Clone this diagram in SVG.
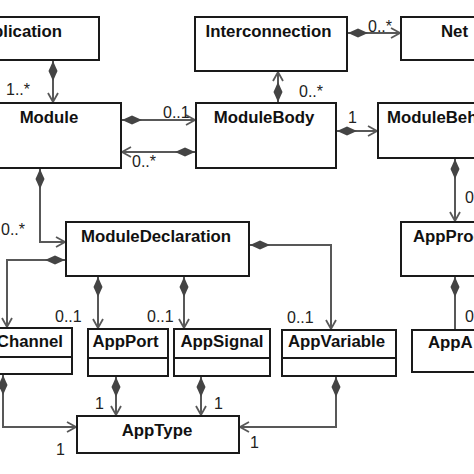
<svg xmlns="http://www.w3.org/2000/svg" width="474" height="474" viewBox="0 0 474 474">
<style>
.box{fill:#fff;stroke:#1a1a1a;stroke-width:2}
.sep{stroke:#1a1a1a;stroke-width:2}
.t{font-family:"Liberation Sans",Arial,sans-serif;font-weight:bold;font-size:16.8px;fill:#111}
.l{font-family:"Liberation Sans",Arial,sans-serif;font-size:16px;fill:#222}
.c{fill:none;stroke:#585858;stroke-width:2}
</style>
<defs>
<marker id="dia" markerWidth="22" markerHeight="12" refX="1" refY="6" orient="auto" markerUnits="userSpaceOnUse">
<path d="M1,6 L11,1.5 L21,6 L11,10.5 Z" fill="#444"/>
</marker>
<marker id="arr" markerWidth="12" markerHeight="12" refX="10" refY="6" orient="auto" markerUnits="userSpaceOnUse">
<path d="M1,1 L10,6 L1,11" fill="none" stroke="#585858" stroke-width="1.8"/>
</marker>
</defs>
<rect width="474" height="474" fill="#fff"/>
<g id="connectors">
<path class="c" marker-start="url(#dia)" marker-end="url(#arr)" d="M53,61 L53,102"/>
<path class="c" marker-start="url(#dia)" marker-end="url(#arr)" d="M122,120 L195,120"/>
<path class="c" marker-start="url(#dia)" marker-end="url(#arr)" d="M195,152 L122,152"/>
<path class="c" marker-start="url(#dia)" marker-end="url(#arr)" d="M348,33 L400,33"/>
<path class="c" marker-start="url(#dia)" marker-end="url(#arr)" d="M278,102 L278,72"/>
<path class="c" marker-start="url(#dia)" marker-end="url(#arr)" d="M337,131 L377,131"/>
<path class="c" marker-start="url(#dia)" marker-end="url(#arr)" d="M455,159 L455,221"/>
<path class="c" marker-start="url(#dia)" d="M455,277 L455,329"/>
<path class="c" marker-start="url(#dia)" marker-end="url(#arr)" d="M40,169 L40,242 L65,242"/>
<path class="c" marker-start="url(#dia)" marker-end="url(#arr)" d="M65,260 L7,260 L7,327"/>
<path class="c" marker-start="url(#dia)" marker-end="url(#arr)" d="M98,277 L98,328"/>
<path class="c" marker-start="url(#dia)" marker-end="url(#arr)" d="M184,277 L184,328"/>
<path class="c" marker-start="url(#dia)" marker-end="url(#arr)" d="M250,245 L331,245 L331,329"/>
<path class="c" marker-start="url(#dia)" marker-end="url(#arr)" d="M116,377 L116,415"/>
<path class="c" marker-start="url(#dia)" marker-end="url(#arr)" d="M201,377 L201,415"/>
<path class="c" marker-start="url(#dia)" marker-end="url(#arr)" d="M336,377 L336,427 L240,427"/>
<path class="c" marker-start="url(#dia)" marker-end="url(#arr)" d="M3,375 L3,427 L76,427"/>
<text class="l" x="6" y="95">1..*</text>
<text class="l" x="163" y="118">0..1</text>
<text class="l" x="132" y="167">0..*</text>
<text class="l" x="368" y="32">0..*</text>
<text class="l" x="299" y="97">0..*</text>
<text class="l" x="348" y="123">1</text>
<text class="l" x="465" y="203">0</text>
<text class="l" x="465" y="322">0</text>
<text class="l" x="1" y="235">0..*</text>
<text class="l" x="55" y="322">0..1</text>
<text class="l" x="147" y="322">0..1</text>
<text class="l" x="287" y="323">0..1</text>
<text class="l" x="95" y="409">1</text>
<text class="l" x="214" y="409">1</text>
<text class="l" x="250" y="448">1</text>
<text class="l" x="56" y="455">1</text>
</g>
<g id="Application"><rect class="box" x="-70" y="17" width="169" height="43"/><text class="t" x="62" y="37" text-anchor="end">Application</text></g>
<g id="Interconnection"><rect class="box" x="195" y="17" width="152" height="54"/><text class="t" x="268.5" y="37" text-anchor="middle">Interconnection</text></g>
<g id="Net"><rect class="box" x="401" y="17" width="100" height="43"/><text class="t" x="454.5" y="37" text-anchor="middle">Net</text></g>
<g id="Module"><rect class="box" x="-30" y="103" width="151" height="65"/><text class="t" x="49" y="123" text-anchor="middle">Module</text></g>
<g id="ModuleBody"><rect class="box" x="196" y="103" width="140" height="65"/><text class="t" x="264" y="123" text-anchor="middle">ModuleBody</text></g>
<g id="ModuleBehavior"><rect class="box" x="378" y="103" width="130" height="55"/><text class="t" x="387" y="123">ModuleBehavior</text></g>
<g id="ModuleDeclaration"><rect class="box" x="66" y="222" width="183" height="54"/><text class="t" x="156" y="242" text-anchor="middle">ModuleDeclaration</text></g>
<g id="AppProcess"><rect class="box" x="401" y="222" width="110" height="54"/><text class="t" x="413" y="242">AppProcess</text></g>
<g id="Channel"><rect class="box" x="-30" y="328" width="102" height="46"/><line class="sep" x1="-30" y1="357" x2="72" y2="357"/><text class="t" x="63" y="347" text-anchor="end">Channel</text></g>
<g id="AppPort"><rect class="box" x="88" y="329" width="80" height="47"/><line class="sep" x1="88" y1="358" x2="168" y2="358"/><text class="t" x="125.5" y="347" text-anchor="middle">AppPort</text></g>
<g id="AppSignal"><rect class="box" x="174" y="329" width="96" height="47"/><line class="sep" x1="174" y1="358" x2="270" y2="358"/><text class="t" x="222" y="347" text-anchor="middle">AppSignal</text></g>
<g id="AppVariable"><rect class="box" x="282" y="330" width="114" height="46"/><line class="sep" x1="282" y1="358" x2="396" y2="358"/><text class="t" x="336.5" y="347" text-anchor="middle">AppVariable</text></g>
<g id="AppA"><rect class="box" x="412" y="330" width="100" height="42"/><text class="t" x="428" y="348">AppA</text></g>
<g id="AppType"><rect class="box" x="77" y="416" width="162" height="37"/><text class="t" x="157" y="436" text-anchor="middle">AppType</text></g>
</svg>
